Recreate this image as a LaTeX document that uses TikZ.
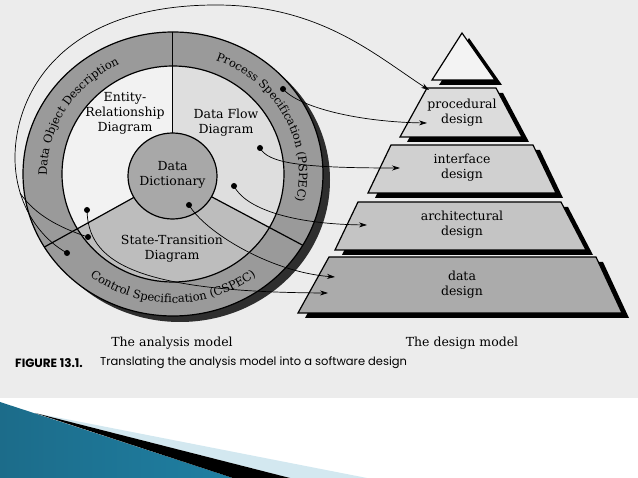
\documentclass[tikz,border=0pt]{standalone}
\usepackage{fontspec}
\setmainfont{DejaVu Serif}
\newfontfamily\capfont{Poppins}
\usetikzlibrary{arrows.meta,decorations.text,calc}
\definecolor{bgfig}{HTML}{ECECEC}
\definecolor{ringc}{HTML}{9A9A9A}
\definecolor{shadc}{HTML}{2E2E2E}
\definecolor{erc}{HTML}{F2F2F2}
\definecolor{dfdc}{HTML}{DEDEDE}
\definecolor{stdc}{HTML}{BDBDBD}
\definecolor{ddc}{HTML}{A8A8A8}
\definecolor{pyTop}{HTML}{F3F3F3}
\definecolor{pyProc}{HTML}{DCDCDC}
\definecolor{pyIntf}{HTML}{D0D0D0}
\definecolor{pyArch}{HTML}{C4C4C4}
\definecolor{pyData}{HTML}{ABABAB}
\definecolor{blueA}{HTML}{1C6C8A}
\definecolor{blueB}{HTML}{4DB0D3}
\definecolor{blueC}{HTML}{1F7FA2}
\definecolor{lblue}{HTML}{D3E8F0}
\newcommand{\ringfont}{\fontsize{11.5}{13}\selectfont}
\tikzset{
  dot/.style={circle,fill=black,inner sep=0pt,minimum size=6pt},
  conn/.style={line width=0.7pt,-{Stealth[length=8pt,width=5pt]}},
  link/.style={line width=0.7pt},
  lbl/.style={align=center,font=\fontsize{12.5}{15}\selectfont,inner sep=0pt},
  layer/.style={draw=black,line width=1.2pt,line join=miter},
  divline/.style={line width=1.2pt},
}
\begin{document}
\begin{tikzpicture}[x=1pt,y=-1pt]
\useasboundingbox (0,0) rectangle (638,478);
\fill[bgfig] (0,0) rectangle (638,398);
% slide decoration
\fill[lblue] (35,413) -- (367,478) -- (290,478) -- cycle;
\shade[left color=blueA,middle color=blueB,right color=blueC] (0,402) -- (233,478) -- (0,478) -- cycle;
\fill[black] (35,413) -- (290,478) -- (233,478) -- cycle;

% analysis model
\coordinate (C) at (173,174);
\coordinate (D) at (172.5,176);
\fill[shadc] (180,180) ellipse [x radius=150, y radius=142];
\fill[ringc] (C) ellipse [x radius=150, y radius=142];
\fill[stdc] (C) ellipse [x radius=111, y radius=108];
\begin{scope}
  \clip (C) ellipse [x radius=111, y radius=108];
  \fill[erc] (D) -- ($(D)+(151:300)$) -- (-100,-100) -- (172.5,-100) -- cycle;
  \fill[dfdc] (D) -- (172.5,-100) -- (500,-100) -- ($(D)+(28:300)$) -- cycle;
\end{scope}
\coordinate (o1) at (172.5,30);
\coordinate (o2) at ($(D)+(151:160)$);
\coordinate (o3) at ($(D)+(28:160)$);
\begin{scope}
  \clip (C) ellipse [x radius=150, y radius=142];
  \draw[divline] (D) -- (o1);
  \draw[divline] (D) -- (o2);
  \draw[divline] (D) -- (o3);
\end{scope}
\draw[line width=1.2pt] (C) ellipse [x radius=111, y radius=108];
\draw[line width=1.2pt] (C) ellipse [x radius=150, y radius=142];
\filldraw[fill=ddc,line width=1.2pt] (D) ellipse [x radius=44.5, y radius=43];

% ring texts
\path[decorate,decoration={text along path,text align=center,text={|\ringfont|Data Object Description}}]
  ($(C)+(176:126 and 121)$) arc[start angle=176,end angle=248,x radius=126,y radius=121];
\path[decorate,decoration={text along path,text align=center,text={|\ringfont|Process Specification (PSPEC)}}]
  ($(C)+(286:126 and 121)$) arc[start angle=286,end angle=377,x radius=126,y radius=121];
\path[decorate,decoration={text along path,text align=center,text={|\ringfont|Control Specification (CSPEC)}}]
  ($(C)+(138:136 and 129)$) arc[start angle=138,end angle=42,x radius=136,y radius=129];

% region labels
\node[lbl] (er) at (125,113) {Entity-\\Relationship\\Diagram};
\node[lbl] (dfd) at (226,122.5) {Data Flow\\Diagram};
\node[lbl] (dd) at (172.5,175) {Data\\Dictionary};
\node[lbl] (std) at (172,248.5) {State-Transition\\Diagram};

% design model pyramid shadows
\begin{scope}[shift={(7,5)}]
  \fill[black] (462,33) -- (495,80) -- (432,80) -- cycle;
  \fill[black] (427,88) -- (496,88) -- (522,137) -- (400,137) -- cycle;
  \fill[black] (391,145) -- (533,145) -- (556,193) -- (368,193) -- cycle;
  \fill[black] (358,202) -- (561,202) -- (586,250) -- (335,250) -- cycle;
  \fill[black] (329,257) -- (596,257) -- (622,313) -- (298,313) -- cycle;
\end{scope}
\filldraw[layer,fill=pyTop] (462,33) -- (495,80) -- (432,80) -- cycle;
\filldraw[layer,fill=pyProc] (427,88) -- (496,88) -- (522,137) -- (400,137) -- cycle;
\filldraw[layer,fill=pyIntf] (391,145) -- (533,145) -- (556,193) -- (368,193) -- cycle;
\filldraw[layer,fill=pyArch] (358,202) -- (561,202) -- (586,250) -- (335,250) -- cycle;
\filldraw[layer,fill=pyData] (329,257) -- (596,257) -- (622,313) -- (298,313) -- cycle;
\node[lbl] (proc) at (462,112.5) {procedural\\design};
\node[lbl] (intf) at (462,168) {interface\\design};
\node[lbl] (arch) at (462,224.5) {architectural\\design};
\node[lbl] (data) at (462,285) {data\\design};

% dots
\node[dot] (dpspec) at (283,89) {};
\node[dot] (ddfd1) at (260,148) {};
\node[dot] (ddfd2) at (234,186) {};
\node[dot] (ddd) at (189,205) {};
\node[dot] (der) at (87,210) {};
\node[dot] (dstd) at (88,237) {};
\node[dot] (dcspec) at (67,253) {};

% arrow targets
\coordinate (pa0) at (429,90);
\coordinate (pa1) at (427,123);
\coordinate (pa2) at (400,168);
\coordinate (pa3) at (367,225);
\coordinate (pa4) at (335,277);
\coordinate (pa5) at (328,293);
\coordinate (mg) at (20,193);

% connectors
\draw[conn] (dpspec.center) .. controls (300,108) and (360,122) .. (pa1);
\draw[conn] (ddfd1.center) .. controls (268,163) and (300,168) .. (pa2);
\draw[conn] (ddfd2.center) .. controls (245,208) and (290,224) .. (pa3);
\draw[conn] (ddd.center) .. controls (205,232) and (270,272) .. (pa4);
\draw[conn] (der.center) .. controls (88,260) and (130,292) .. (pa5);
\draw[conn] (dcspec.center) .. controls (40,238) and (16,205) .. (15,160)
   .. controls (14,95) and (60,5) .. (216,5)
   .. controls (320,5) and (375,55) .. (pa0);
\draw[link] (dstd.center) .. controls (60,228) and (35,215) .. (mg);

% captions
\node[font=\fontsize{12.5}{15}\selectfont,inner sep=0pt] (cap1) at (172,343) {The analysis model};
\node[font=\fontsize{12.5}{15}\selectfont,inner sep=0pt] (cap2) at (462,343) {The design model};
\node[anchor=west,inner sep=0pt,font=\capfont\bfseries\fontsize{12}{14}\selectfont] (figno) at (15,363) {FIGURE 13.1.};
\node[anchor=west,inner sep=0pt,font=\capfont\fontsize{11.5}{14}\selectfont] (figtxt) at (100,363)
  {Translating the analysis model into a software design};
\end{tikzpicture}
\end{document}
